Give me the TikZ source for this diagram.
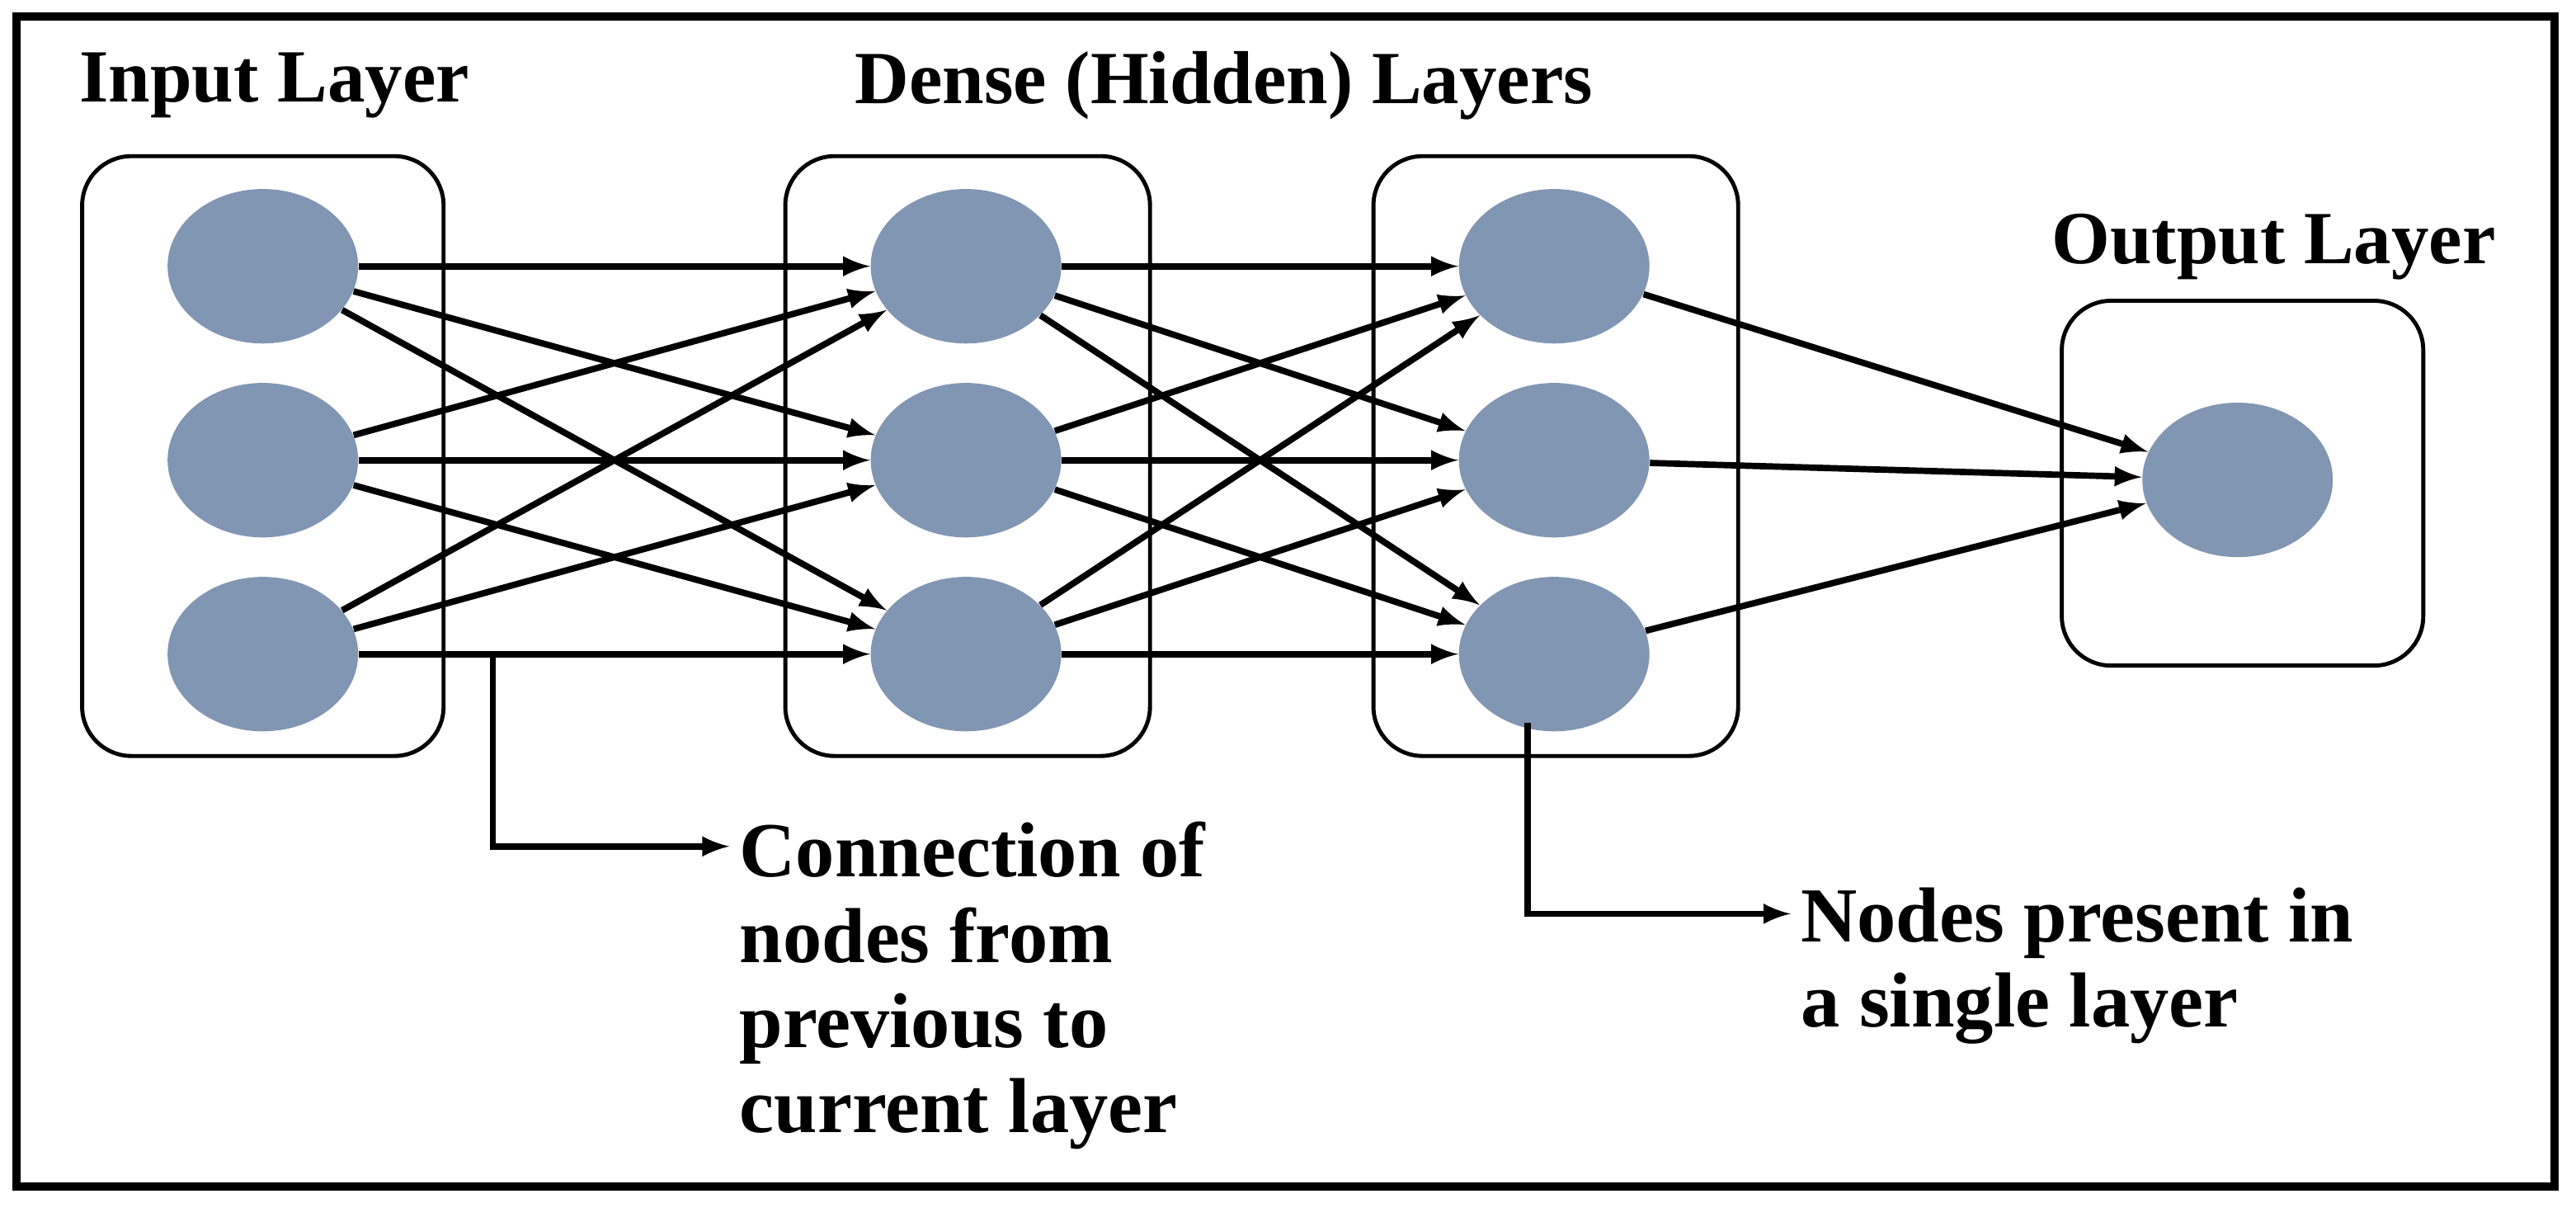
\documentclass[tikz,border=0pt]{standalone}
\usepackage{fontspec}
\setmainfont{Liberation Serif}
\usetikzlibrary{shapes.geometric}
\definecolor{neuc}{RGB}{128,150,178}
\begin{document}
\begin{tikzpicture}[x=0.02cm,y=-0.02cm,
  neu/.style={ellipse,fill=neuc,draw=none,minimum width=2.32cm,minimum height=1.88cm,inner sep=0},
  lay/.style={draw,line width=1.4pt,rounded corners=0.6cm},
  con/.style={->,>=latex,line width=2.2pt},
  ttl/.style={font=\fontsize{26}{30}\selectfont\bfseries},
  ann/.style={font=\fontsize{27}{29.5}\selectfont\bfseries,align=left}]
\useasboundingbox (0,0) rectangle (1568,735);
\draw[line width=3pt] (10,10) rectangle (1555,722);
\draw[lay] (50,95) rectangle (270,460);
\draw[lay] (478,95) rectangle (700,460);
\draw[lay] (836,95) rectangle (1058,460);
\draw[lay] (1255,183) rectangle (1475,405);
\node[ttl] (t1) at (167,52) {Input Layer};
\node[ttl] (t2) at (745,52) {Dense (Hidden) Layers};
\node[ttl] (t3) at (1384,150) {Output Layer};
\foreach \i/\y in {1/162,2/280,3/398}{
  \node[neu] (a\i) at (160,\y) {};
  \node[neu] (b\i) at (588,\y) {};
  \node[neu] (c\i) at (946,\y) {};
}
\node[neu] (o) at (1362,292) {};
\foreach \i in {1,2,3}{\foreach \j in {1,2,3}{
  \draw[con] (a\i) -- (b\j);
  \draw[con] (b\i) -- (c\j);}
  \draw[con] (c\i) -- (o);}
\coordinate (p1) at (300,400);
\coordinate (p2) at (300,515);
\node[ann,anchor=north west] (n1) at (444,494) {Connection of\\nodes from\\previous to\\current layer};
\draw[con] (p1) -- (p2) -- (p2 -| n1.west);
\coordinate (q1) at (930,440);
\coordinate (q2) at (930,556);
\node[ann,anchor=north west] (n2) at (1090,534) {Nodes present in\\a single layer};
\draw[con] (q1) -- (q2) -- (q2 -| n2.west);
\end{tikzpicture}
\end{document}
